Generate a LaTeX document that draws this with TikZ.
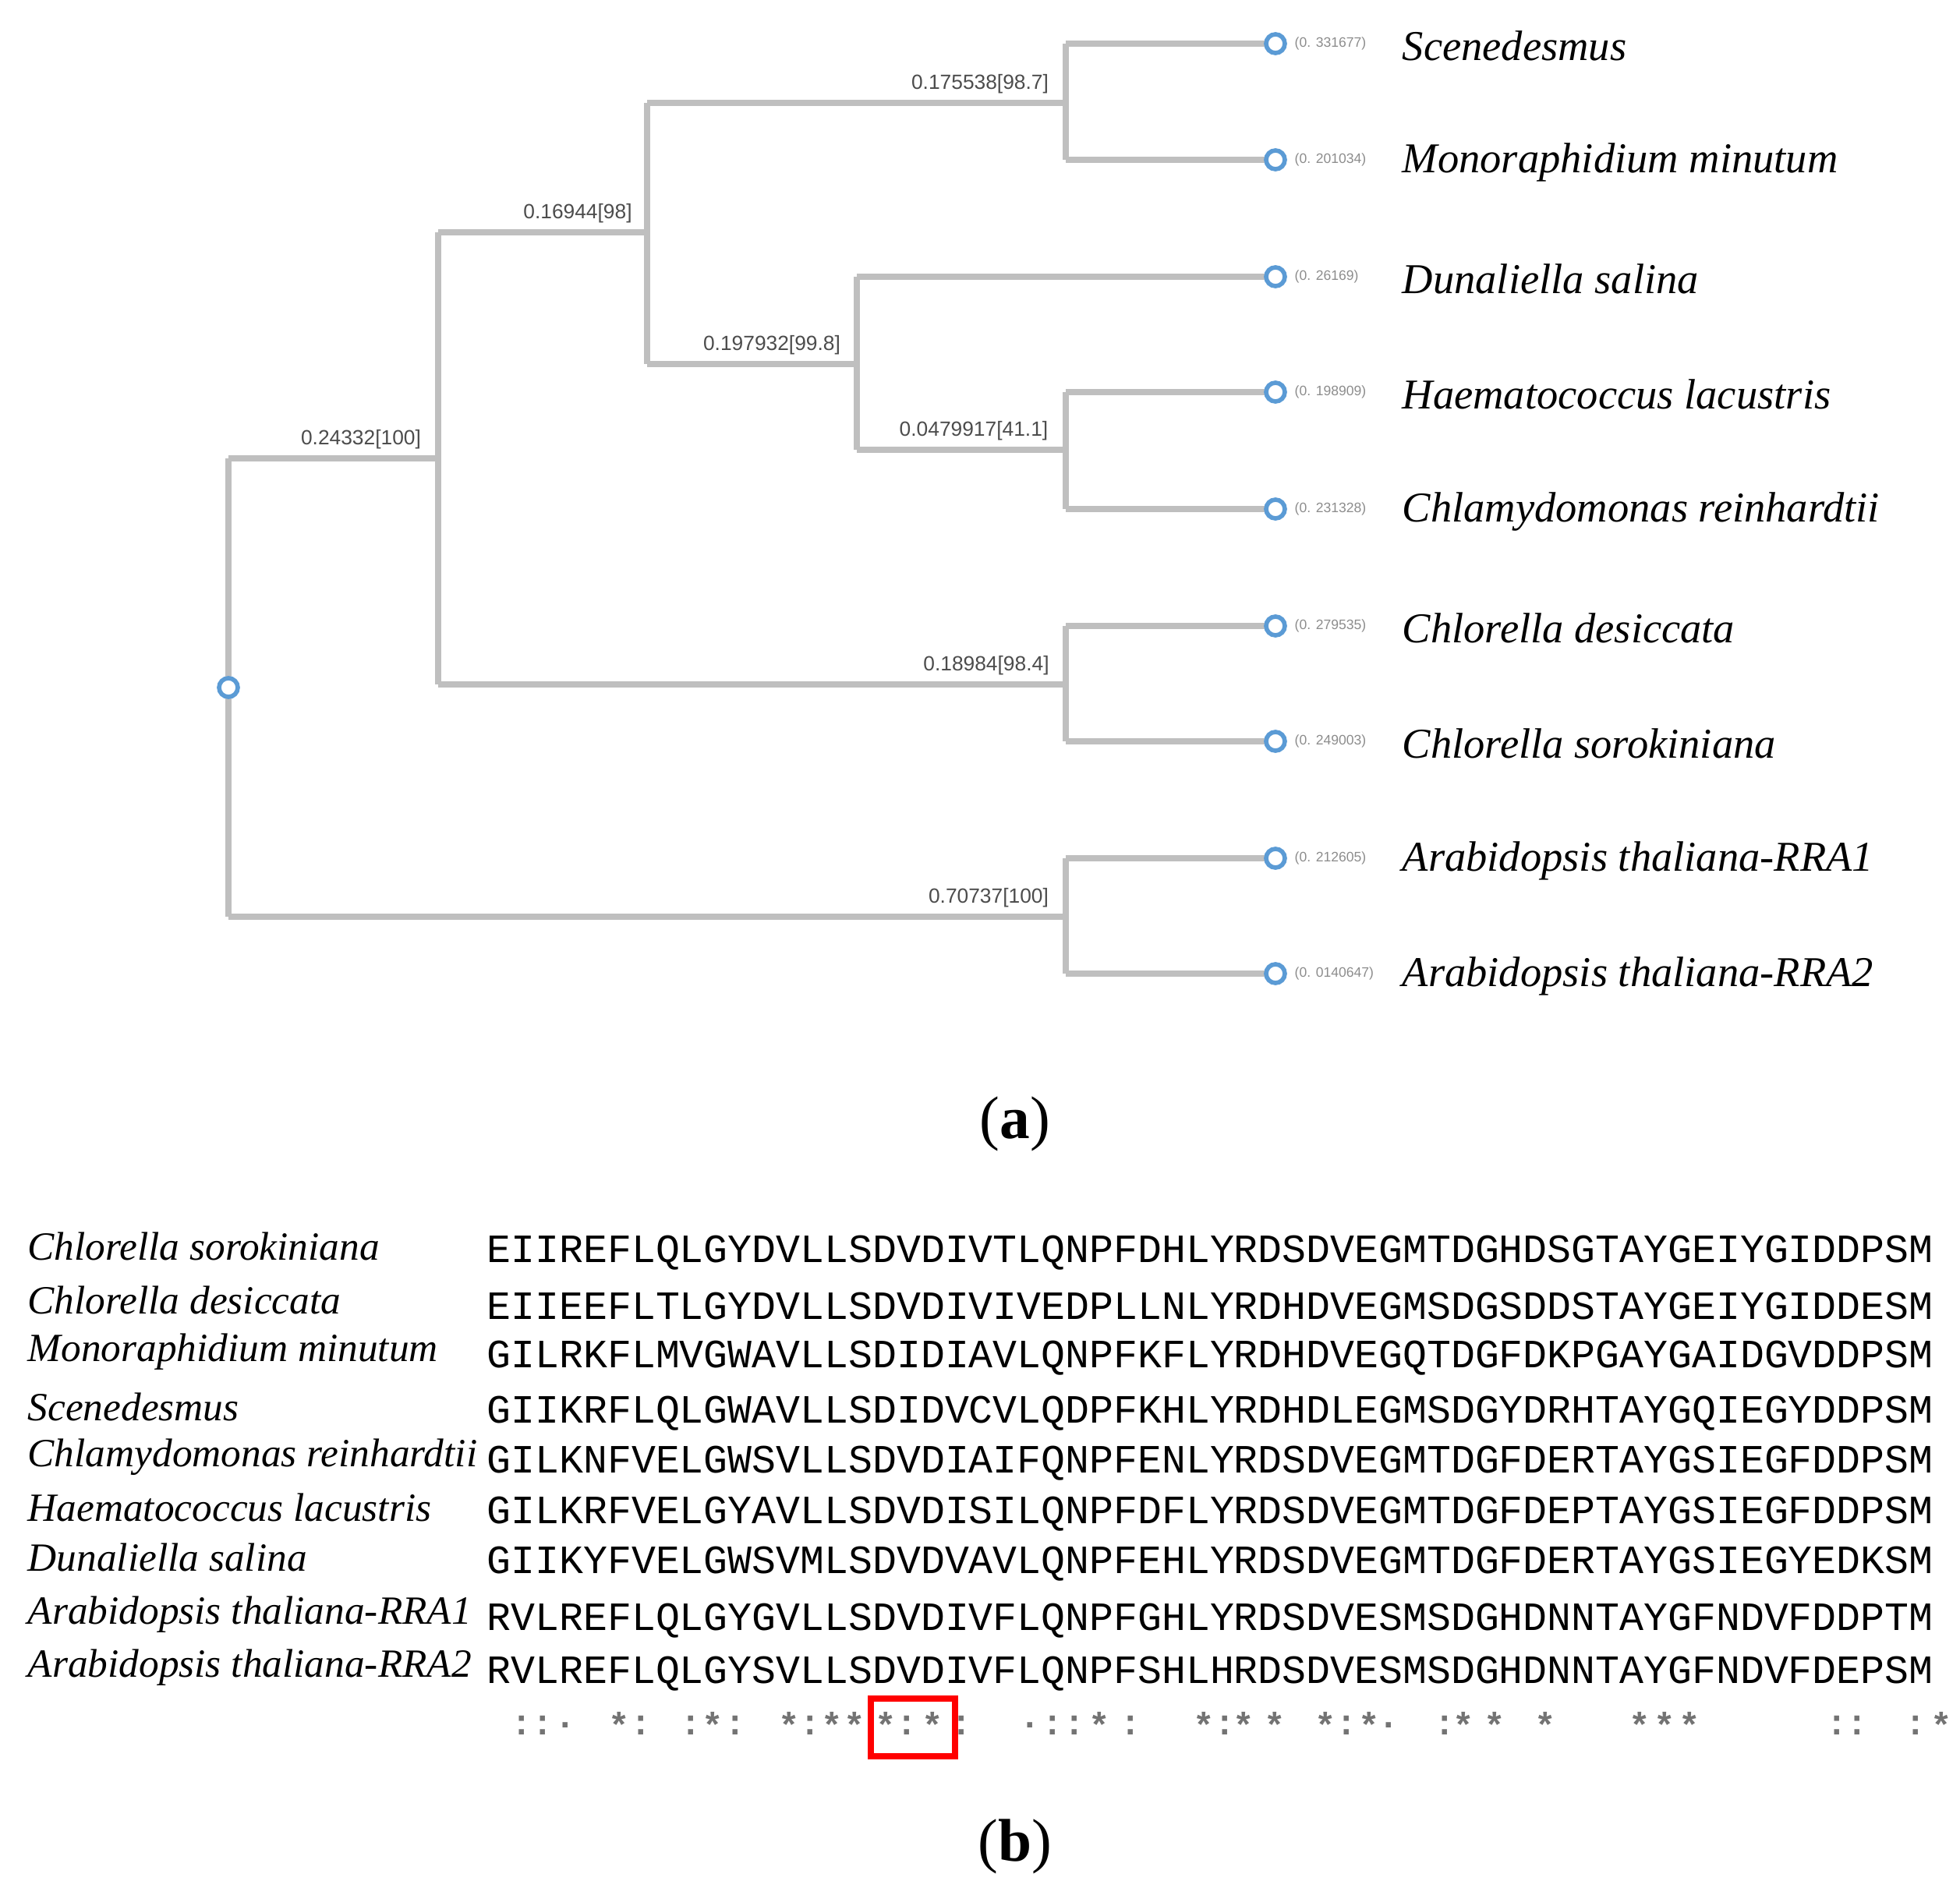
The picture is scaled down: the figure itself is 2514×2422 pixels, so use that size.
\documentclass[tikz,border=0pt]{standalone}
\usepackage{fontspec}
\setmainfont{Liberation Serif}
\newfontfamily\lsans{Liberation Sans}
\newfontfamily\lmono{Liberation Mono}
\begin{document}
\begin{tikzpicture}[x=0.01cm,y=-0.01cm,
  br/.style={draw=black!25,line width=2.4pt},
  leaf/.style={circle,draw={rgb,255:red,91;green,155;blue,213},line width=1.6pt,inner sep=0pt,minimum size=0.24cm,fill=white},
  blab/.style={font=\lsans\fontsize{7.5}{8}\selectfont,text=black!70,anchor=south,inner sep=1pt},
  vlab/.style={font=\lsans\fontsize{5}{6}\selectfont,text=black!45,anchor=west,inner sep=0pt},
  sp/.style={font=\itshape\fontsize{15.5}{18}\selectfont,anchor=west,inner sep=0pt},
  an/.style={font=\itshape\fontsize{14.6}{17}\selectfont,anchor=west,inner sep=0pt},
  sq/.style={font=\lmono\fontsize{14.65}{16}\selectfont,anchor=west,inner sep=0pt},
  cs/.style={font=\lmono\bfseries\fontsize{13}{14}\selectfont,text=black!55,inner sep=0pt}]
\useasboundingbox (0,0) rectangle (2514,2422);
\coordinate (R) at (293,882);
\foreach \n/\y in {l1/56,l2/205,l3/355,l4/503,l5/653,l6/803,l7/951,l8/1101,l9/1249}{\coordinate (\n) at (1636,\y);}
\draw[br] (293,588) -- (293,1176);
\draw[br] (293,588) -- (562,588);
\draw[br] (293,1176) -- (1367,1176);
\draw[br] (562,298) -- (562,878);
\draw[br] (562,298) -- (830,298);
\draw[br] (562,878) -- (1367,878);
\draw[br] (830,132) -- (830,467);
\draw[br] (830,132) -- (1367,132);
\draw[br] (830,467) -- (1099,467);
\draw[br] (1367,56) -- (1367,205);
\draw[br] (1099,355) -- (1099,577);
\draw[br] (1099,577) -- (1367,577);
\draw[br] (1367,503) -- (1367,653);
\draw[br] (1367,803) -- (1367,951);
\draw[br] (1367,1101) -- (1367,1249);
\draw[br] (1367,56) -- (l1); \draw[br] (1367,205) -- (l2);
\draw[br] (1099,355) -- (l3);
\draw[br] (1367,503) -- (l4); \draw[br] (1367,653) -- (l5);
\draw[br] (1367,803) -- (l6); \draw[br] (1367,951) -- (l7);
\draw[br] (1367,1101) -- (l8); \draw[br] (1367,1249) -- (l9);
\node[leaf] (rootc) at (R) {};
\foreach \n in {l1,l2,l3,l4,l5,l6,l7,l8,l9}{\node[leaf] (c\n) at (\n) {};}
\node[blab] (b1) at (463,580) {0.24332[100]};
\node[blab] (b2) at (741,290) {0.16944[98]};
\node[blab] (b3) at (1257,124) {0.175538[98.7]};
\node[blab] (b4) at (990,459) {0.197932[99.8]};
\node[blab] (b5) at (1249,569) {0.0479917[41.1]};
\node[blab] (b6) at (1265,870) {0.18984[98.4]};
\node[blab] (b7) at (1268,1168) {0.70737[100]};
\foreach \n/\v/\s in {l1/{(0. 331677)}/{Scenedesmus},l2/{(0. 201034)}/{Monoraphidium minutum},l3/{(0. 26169)}/{Dunaliella salina},l4/{(0. 198909)}/{Haematococcus lacustris},l5/{(0. 231328)}/{Chlamydomonas reinhardtii},l6/{(0. 279535)}/{Chlorella desiccata},l7/{(0. 249003)}/{Chlorella sorokiniana},l8/{(0. 212605)}/{Arabidopsis thaliana-RRA1},l9/{(0. 0140647)}/{Arabidopsis thaliana-RRA2}}{
  \node[vlab] (v\n) at ([xshift=0.24cm]\n) {\v};
  \node[sp] (s\n) at ([xshift=1.62cm,yshift=-0.03cm]\n) {\s};
}
\node[font=\fontsize{22}{24}\selectfont] (capa) at (1302,1442) {(\textbf{a})};
\foreach \i/\y/\nm/\sq in {1/1607/{Chlorella sorokiniana}/EIIREFLQLGYDVLLSDVDIVTLQNPFDHLYRDSDVEGMTDGHDSGTAYGEIYGIDDPSM,
2/1676/{Chlorella desiccata}/EIIEEFLTLGYDVLLSDVDIVIVEDPLLNLYRDHDVEGMSDGSDDSTAYGEIYGIDDESM,
3/1742/{Monoraphidium minutum}/GILRKFLMVGWAVLLSDIDIAVLQNPFKFLYRDHDVEGQTDGFDKPGAYGAIDGVDDPSM,
4/1813/{Scenedesmus}/GIIKRFLQLGWAVLLSDIDVCVLQDPFKHLYRDHDLEGMSDGYDRHTAYGQIEGYDDPSM,
5/1877/{Chlamydomonas reinhardtii}/GILKNFVELGWSVLLSDVDIAIFQNPFENLYRDSDVEGMTDGFDERTAYGSIEGFDDPSM,
6/1942/{Haematococcus lacustris}/GILKRFVELGYAVLLSDVDISILQNPFDFLYRDSDVEGMTDGFDEPTAYGSIEGFDDPSM,
7/2006/{Dunaliella salina}/GIIKYFVELGWSVMLSDVDVAVLQNPFEHLYRDSDVEGMTDGFDERTAYGSIEGYEDKSM,
8/2079/{Arabidopsis thaliana-RRA1}/RVLREFLQLGYGVLLSDVDIVFLQNPFGHLYRDSDVESMSDGHDNNTAYGFNDVFDDPTM,
9/2147/{Arabidopsis thaliana-RRA2}/RVLREFLQLGYSVLLSDVDIVFLQNPFSHLHRDSDVESMSDGHDNNTAYGFNDVFDEPSM}{
  \node[an] (n\i) at (35,\y-8) {\nm};
  \node[sq] (q\i) at (624,\y) {\sq};
}
\foreach \x/\c in {415/:,432/:,450/.,493/*,510/:,550/:,567/*,585/:,628/*,645/:,662/*,680/*,705/*,722/:,742/*,765/:,820/.,838/:,855/:,875/*,900/:,958/*,975/:,990/*,1015/*,1055/*,1072/:,1090/*,1105/.,1150/:,1165/*,1190/*,1230/*,1305/*,1325/*,1345/*,1462/:,1478/:,1525/:,1545/*}{
  \node[cs] at (\x*1.6115,2213) {\c};
}
\draw[red,line width=2pt] (1117,2179) rectangle (1225,2253);
\node[font=\fontsize{22}{24}\selectfont] (capb) at (1302,2369) {(\textbf{b})};
\end{tikzpicture}
\end{document}
